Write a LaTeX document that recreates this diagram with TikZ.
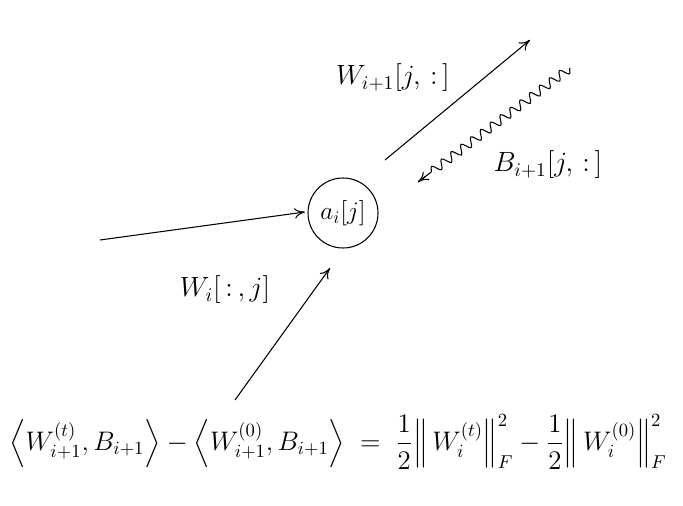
\documentclass[tikz,border=0pt]{standalone}
\usepackage{amsmath}
\usetikzlibrary{decorations.pathmorphing,arrows.meta,calc}
\begin{document}
\begin{tikzpicture}[x=0.02cm,y=-0.02cm,
  conn/.style={-{To[length=6pt,width=6pt]},line width=0.6pt},
  lab/.style={font=\Large,scale=1.1}]
\useasboundingbox (0,0) rectangle (683,506);
\node[draw,circle,minimum size=70*0.02cm,inner sep=0pt,line width=0.6pt,font=\Large] (a) at (343,213) {$a_i[j]$};
\coordinate (l) at (100,240);
\coordinate (b) at (235,400);
\coordinate (r) at (385,160);
\coordinate (rt) at (530,40);
\coordinate (w) at (570,68);
\coordinate (wt) at (418,182);
\draw[conn] (l) -- (305,212);
\draw[conn] (b) -- (330,268);
\draw[conn] (r) -- (rt);
\draw[line width=0.6pt,decorate,decoration={snake,amplitude=2.5pt,segment length=7pt,post length=8pt}] (w) -- (wt);
\draw[conn] ($(wt)!0.05!(w)$) -- (wt);
\node[lab] (t1) at (393,78) {$W_{i+1}[j,\,:\,]$};
\node[lab] (t2) at (548,165) {$B_{i+1}[j,\,:\,]$};
\node[lab] (t3) at (225,290) {$W_i[\,:\,,j]$};
\node[font=\Large,scale=1.06] (eq) at (338,442) {$\Big\langle W^{(t)}_{i+1},B_{i+1}\Big\rangle-\Big\langle W^{(0)}_{i+1},B_{i+1}\Big\rangle \;=\; \dfrac12\Big\|\,W^{(t)}_i\Big\|_F^2-\dfrac12\Big\|\,W^{(0)}_i\Big\|_F^2$};
\end{tikzpicture}
\end{document}
